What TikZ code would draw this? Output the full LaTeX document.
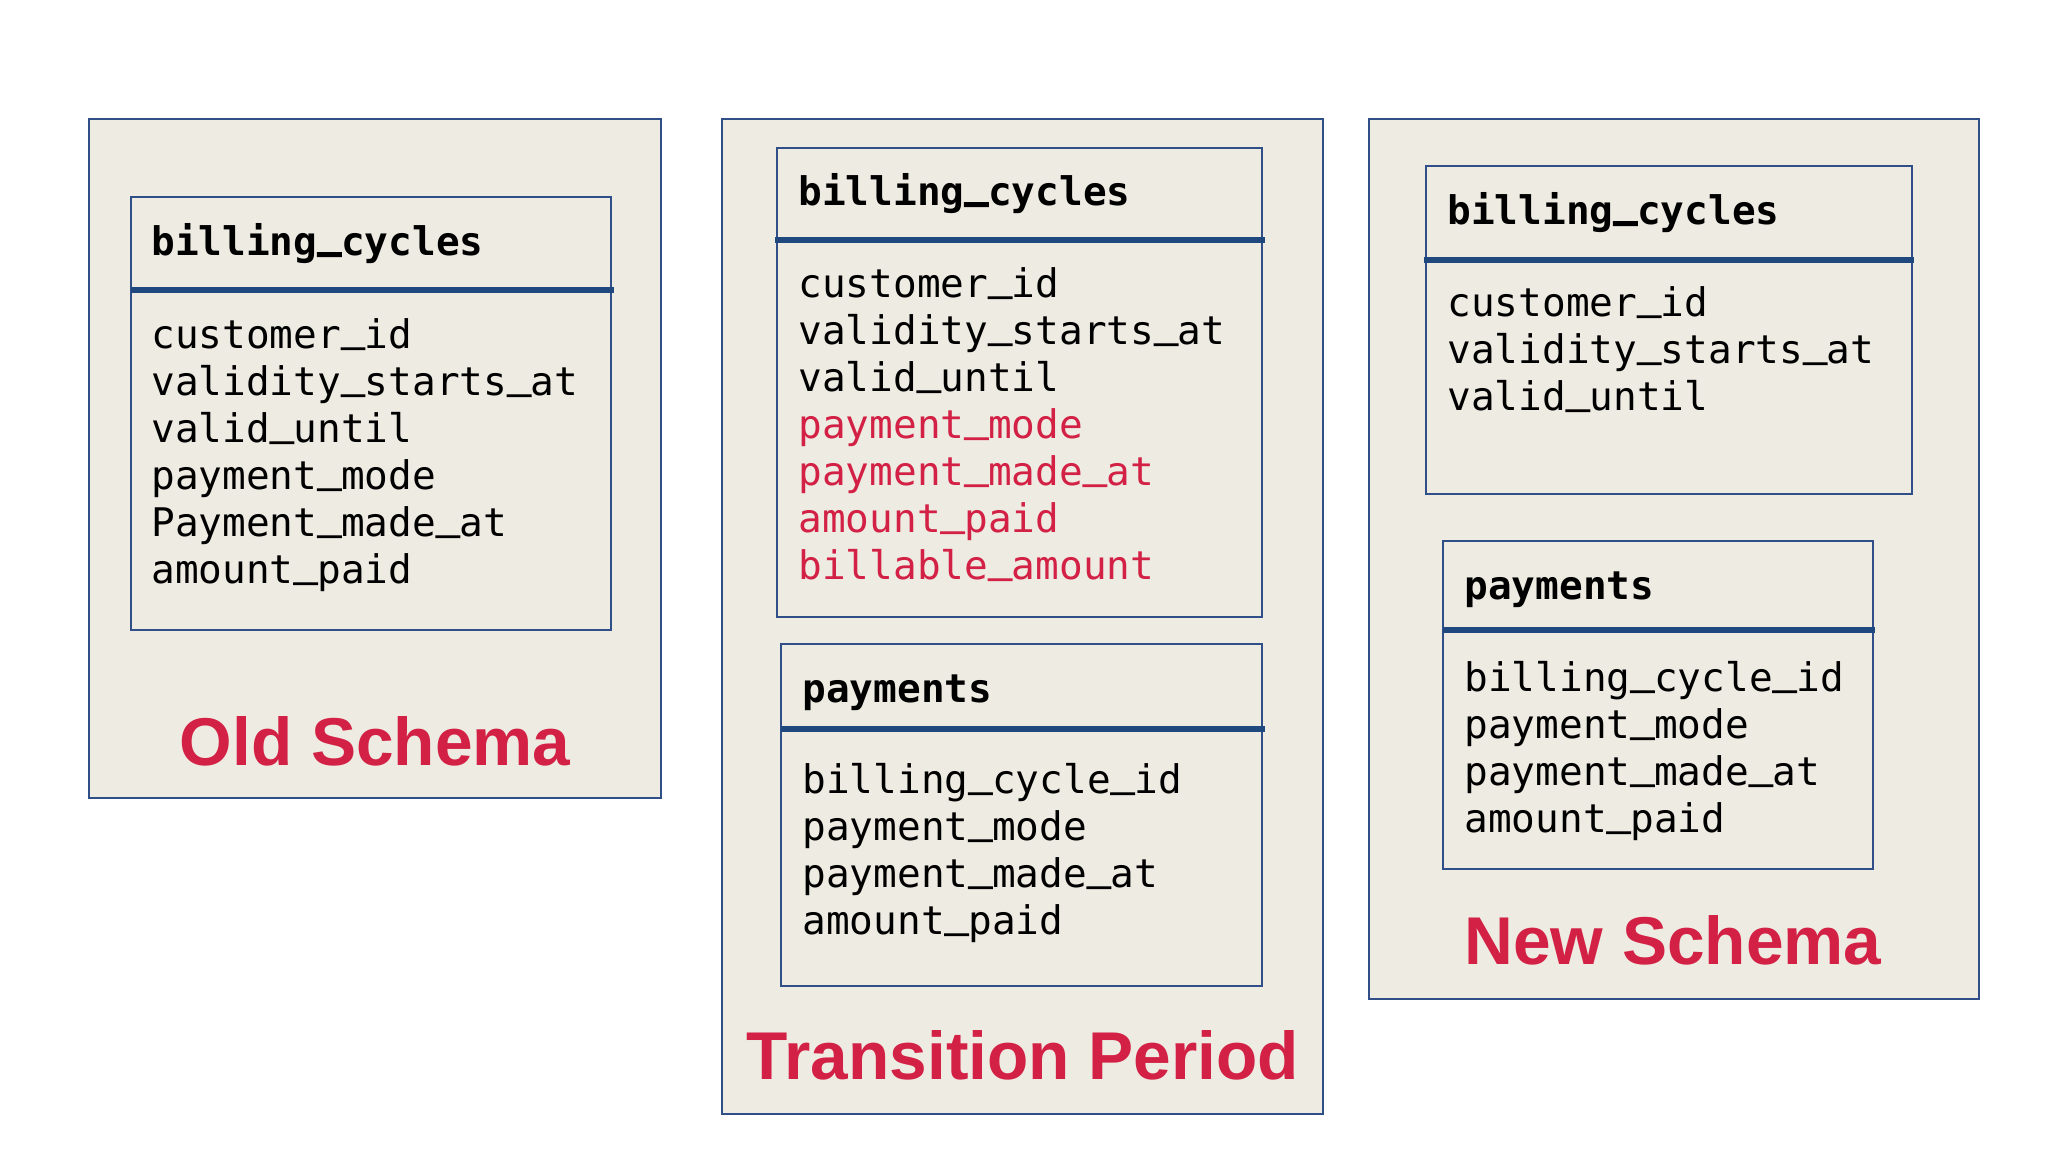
\documentclass[tikz,border=0pt]{standalone}
\usepackage{fontspec}
\setsansfont{Liberation Sans}
\setmonofont{DejaVu Sans Mono}
\newcommand\us{\raisebox{0.2em}{\addfontfeature{FakeBold=3}\_}}
\definecolor{paper}{RGB}{238,235,227}
\definecolor{frame}{RGB}{48,78,135}
\definecolor{rulecol}{RGB}{31,72,126}
\definecolor{schemared}{RGB}{211,33,69}
\tikzset{
    schema/.style={draw=frame, line width=1pt, fill=paper},
    tbl/.style={draw=frame, line width=1pt},
    headrule/.style={draw=rulecol, line width=3pt},
    tblname/.style={anchor=base west, inner sep=0pt, font=\ttfamily\bfseries\fontsize{19.7}{23.5}\selectfont},
    field/.style={anchor=base west, inner sep=0pt, font=\ttfamily\fontsize{19.7}{23.5}\selectfont},
    title/.style={text=schemared, inner sep=0pt, font=\sffamily\bfseries\fontsize{33.8}{40}\selectfont}
}

\begin{document}
\begin{tikzpicture}[x=0.5pt, y=-0.5pt]
\fill[white] (0,0) rectangle (2048,1152);
\useasboundingbox (0,0) rectangle (2048,1152);

% old schema
\draw[schema] (89,119) rectangle (661,798);
\draw[tbl] (131,197) rectangle (611,630);
\draw[headrule] (131,290) -- (614,290);
\node[tblname] (old-bc) at (151,255) {billing\us cycles};
\foreach \f [count=\i] in {customer\us id, validity\us starts\us at, valid\us until,
        payment\us mode, Payment\us made\us at, amount\us paid}
    \node[field] (old-bc-\i) at (151,{301+47*\i}) {\f};
\node[title] (old-title) at (375,741) {Old Schema};

% transition period
\draw[schema] (722,119) rectangle (1323,1114);
\draw[tbl] (777,148) rectangle (1262,617);
\draw[headrule] (775,240) -- (1265,240);
\node[tblname] (mid-bc) at (798,205) {billing\us cycles};
\foreach \f/\c [count=\i] in {customer\us id/black, validity\us starts\us at/black,
        valid\us until/black, payment\us mode/schemared, payment\us made\us at/schemared,
        amount\us paid/schemared, billable\us amount/schemared}
    \node[field, text=\c] (mid-bc-\i) at (798,{250+47*\i}) {\f};
\draw[tbl] (781,644) rectangle (1262,986);
\draw[headrule] (781,729) -- (1265,729);
\node[tblname] (mid-pay) at (802,702) {payments};
\foreach \f [count=\i] in {billing\us cycle\us id, payment\us mode, payment\us made\us at, amount\us paid}
    \node[field] (mid-pay-\i) at (802,{746+47*\i}) {\f};
\node[title] (mid-title) at (1023,1055) {Transition Period};

% new schema
\draw[schema] (1369,119) rectangle (1979,999);
\draw[tbl] (1426,166) rectangle (1912,494);
\draw[headrule] (1424,260) -- (1914,260);
\node[tblname] (new-bc) at (1447,224) {billing\us cycles};
\foreach \f [count=\i] in {customer\us id, validity\us starts\us at, valid\us until}
    \node[field] (new-bc-\i) at (1447,{269+47*\i}) {\f};
\draw[tbl] (1443,541) rectangle (1873,869);
\draw[headrule] (1443,630) -- (1875,630);
\node[tblname] (new-pay) at (1464,599) {payments};
\foreach \f [count=\i] in {billing\us cycle\us id, payment\us mode, payment\us made\us at, amount\us paid}
    \node[field] (new-pay-\i) at (1464,{644+47*\i}) {\f};
\node[title] (new-title) at (1673,940) {New Schema};
\end{tikzpicture}
\end{document}
